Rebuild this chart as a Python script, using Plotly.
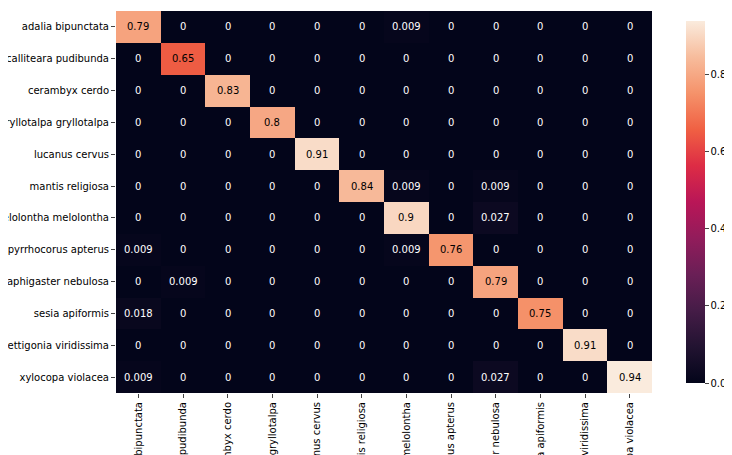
import plotly.graph_objects as go

labels = ["adalia bipunctata", "calliteara pudibunda", "cerambyx cerdo",
          "gryllotalpa gryllotalpa", "lucanus cervus", "mantis religiosa",
          "melolontha melolontha", "pyrrhocorus apterus", "rhaphigaster nebulosa",
          "sesia apiformis", "tettigonia viridissima", "xylocopa violacea"]

matrix = [
    [0.79, 0, 0, 0, 0, 0, 0.009, 0, 0, 0, 0, 0],
    [0, 0.65, 0, 0, 0, 0, 0, 0, 0, 0, 0, 0],
    [0, 0, 0.83, 0, 0, 0, 0, 0, 0, 0, 0, 0],
    [0, 0, 0, 0.8, 0, 0, 0, 0, 0, 0, 0, 0],
    [0, 0, 0, 0, 0.91, 0, 0, 0, 0, 0, 0, 0],
    [0, 0, 0, 0, 0, 0.84, 0.009, 0, 0.009, 0, 0, 0],
    [0, 0, 0, 0, 0, 0, 0.9, 0, 0.027, 0, 0, 0],
    [0.009, 0, 0, 0, 0, 0, 0.009, 0.76, 0, 0, 0, 0],
    [0, 0.009, 0, 0, 0, 0, 0, 0, 0.79, 0, 0, 0],
    [0.018, 0, 0, 0, 0, 0, 0, 0, 0, 0.75, 0, 0],
    [0, 0, 0, 0, 0, 0, 0, 0, 0, 0, 0.91, 0],
    [0.009, 0, 0, 0, 0, 0, 0, 0, 0.027, 0, 0, 0.94],
]

rocket = [[0.0, "#03051a"], [0.1, "#221331"], [0.2, "#451c47"], [0.3, "#6a1f56"],
          [0.4, "#921c5b"], [0.5, "#b91657"], [0.6, "#dd2c45"], [0.7, "#f06043"],
          [0.8, "#f5926a"], [0.9, "#f7bc9c"], [1.0, "#faebdd"]]

fig = go.Figure(go.Heatmap(
    z=matrix, x=labels, y=labels, colorscale=rocket, zmin=0, zmax=0.94,
    colorbar=dict(tickvals=[0, 0.2, 0.4, 0.6, 0.8], tickformat=".1f",
                  thickness=19, len=1, lenmode="fraction", y=0.5, x=1.045,
                  xanchor="left", outlinewidth=0, ticks="outside", ticklen=4,
                  tickfont=dict(size=10)),
))

for i, row in enumerate(matrix):
    for j, v in enumerate(row):
        fig.add_annotation(x=labels[j], y=labels[i], text=f"{v:g}", showarrow=False,
                           font=dict(size=10, color="black" if v > 0.5 else "white"))

fig.update_layout(
    width=732, height=455,
    margin=dict(l=108, r=88, t=3, b=70),
    plot_bgcolor="white", paper_bgcolor="white",
    font=dict(family="DejaVu Sans", size=10, color="black"),
    xaxis=dict(tickangle=-90, ticks="outside", ticklen=4, showgrid=False, automargin=False),
    yaxis=dict(autorange="reversed", ticks="outside", ticklen=4, showgrid=False, automargin=False),
)

fig.write_html("out.html")
